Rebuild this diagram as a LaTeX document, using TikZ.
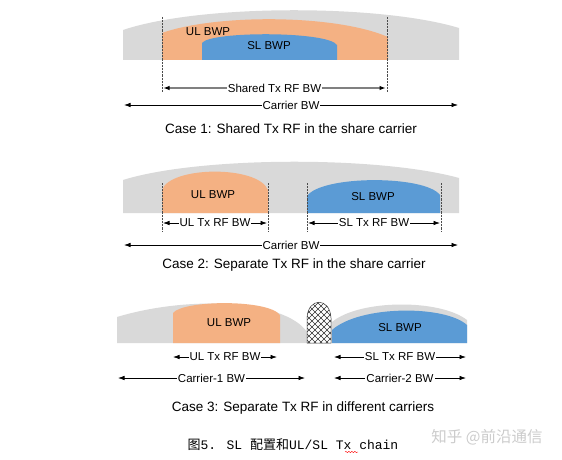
\documentclass[tikz,border=0pt]{standalone}
\usepackage{fontspec}
\setmainfont{Liberation Sans}
\newfontfamily\cjkfont{Noto Sans CJK SC}
\newfontfamily\capmono{Liberation Mono}
\usetikzlibrary{arrows.meta,decorations.pathmorphing}
\definecolor{carriergray}{HTML}{D9D9D9}
\definecolor{ulorange}{HTML}{F4B183}
\definecolor{slblue}{HTML}{5B9BD5}

\begin{document}
\begin{tikzpicture}[
  x=1pt, y=-1pt,
  >={Latex[length=6.5pt, width=4.5pt, color=black]},
  carrier/.style={fill=carriergray},
  ulbwp/.style={fill=ulorange},
  slbwp/.style={fill=slblue},
  guide/.style={densely dotted, black!70, line width=0.45pt},
  dim/.style={<->, line width=0.7pt},
  lbl/.style={font=\fontsize{11.5}{13}\selectfont, fill=white, inner sep=1pt},
  bwp/.style={font=\fontsize{11.5}{13}\selectfont, inner sep=1pt},
  caption/.style={font=\fontsize{13.5}{16}\selectfont, inner sep=1pt},
  hatch/.style={line width=0.4pt, black!80},
]
  \useasboundingbox[fill=white] (0,0) rectangle (562,460);

  % case 1: one carrier, shared RF
  \fill[carrier] (123,60) -- (123,30) .. controls (200,4) and (380,4) .. (459,28) -- (459,60) -- cycle;
  \fill[ulbwp] (162,60) -- (162,33) .. controls (215,14) and (335,14) .. (388,37) -- (388,60) -- cycle;
  \fill[slbwp] (202,60) -- (202,43) .. controls (210,31) and (328,31) .. (337,45) -- (337,60) -- cycle;
  \node[bwp] (ul1) at (208,32) {UL BWP};
  \node[bwp] (sl1) at (269,46) {SL BWP};

  \coordinate (g1a) at (162,17);  \coordinate (g1b) at (162,91);
  \coordinate (g1c) at (387,17);  \coordinate (g1d) at (387,91);
  \draw[guide] (g1a) -- (g1b);
  \draw[guide] (g1c) -- (g1d);

  \coordinate (sh1L) at (163,88);  \coordinate (sh1R) at (386,88);
  \coordinate (cb1L) at (124,105); \coordinate (cb1R) at (458,105);
  \draw[dim, black!50, line width=1.3pt] (sh1L) -- node[lbl, text=black] (sh1) {Shared Tx RF BW} (sh1R);
  \draw[dim] (cb1L) -- node[lbl] (cb1) {Carrier BW} (cb1R);
  \node[caption] (cap1) at (291,129) {Case 1: Shared Tx RF in the share carrier};

  % case 2: one carrier, separate RF
  \fill[carrier] (123,213) -- (123,180) .. controls (200,156) and (380,156) .. (459,178) -- (459,213) -- cycle;
  \fill[ulbwp] (162,213) -- (162,190) .. controls (170,166) and (258,165) .. (268,190) -- (268,213) -- cycle;
  \fill[slbwp] (307,213) -- (307,196) .. controls (322,175) and (425,175) .. (440,195) -- (440,213) -- cycle;
  \node[bwp] (ul2) at (213,195) {UL BWP};
  \node[bwp] (sl2) at (373,197) {SL BWP};

  \foreach \gx [count=\i] in {162,268,307,441} {
    \coordinate (g2t\i) at (\gx,183);
    \coordinate (g2b\i) at (\gx,231);
    \draw[guide] (g2t\i) -- (g2b\i);
  }

  \coordinate (ut2L) at (163,223); \coordinate (ut2R) at (267,223);
  \coordinate (st2L) at (308,223); \coordinate (st2R) at (440,223);
  \coordinate (cb2L) at (124,245); \coordinate (cb2R) at (458,245);
  \draw[dim] (ut2L) -- node[lbl] (ut2) {UL Tx RF BW} (ut2R);
  \draw[dim] (st2L) -- node[lbl] (st2) {SL Tx RF BW} (st2R);
  \draw[dim] (cb2L) -- node[lbl] (cb2) {Carrier BW} (cb2R);
  \node[caption] (cap2) at (294,265) {Case 2: Separate Tx RF in the share carrier};

  % case 3: two carriers, separate RF
  \fill[carrier] (117,343) -- (117,317) .. controls (190,295) and (285,300) .. (307,332) -- (307,343) -- cycle;
  \fill[ulbwp] (173,343) -- (173,313) .. controls (183,300) and (268,299) .. (280,315) -- (280,343) -- cycle;
  \fill[carrier] (332,343) -- (332,322) .. controls (360,299) and (440,299) .. (467,320) -- (467,343) -- cycle;
  \fill[slbwp] (332,343) -- (332,330) .. controls (360,305) and (445,305) .. (467,325) -- (467,343) -- cycle;
  \begin{scope}
    \clip (307,343) -- (307,318) .. controls (308,297) and (330,297) .. (331,318) -- (331,343) -- cycle;
    \fill[white] (300,290) rectangle (340,350);
    \foreach \k in {270,276,...,370} {
      \draw[hatch] (\k,345) -- ++(50,-50);
      \draw[hatch] (\k,345) -- ++(-50,-50);
    }
  \end{scope}
  \draw[black!80, line width=0.5pt] (307,343) -- (307,318) .. controls (308,297) and (330,297) .. (331,318) -- (331,343) -- cycle;
  \node[bwp] (ul3) at (229,323) {UL BWP};
  \node[bwp] (sl3) at (400,328) {SL BWP};

  \coordinate (ut3L) at (173,357); \coordinate (ut3R) at (277,357);
  \coordinate (st3L) at (334,357); \coordinate (st3R) at (466,357);
  \coordinate (c31L) at (118,378); \coordinate (c31R) at (305,378);
  \coordinate (c32L) at (334,378); \coordinate (c32R) at (466,378);
  \draw[dim] (ut3L) -- node[lbl] (ut3) {UL Tx RF BW} (ut3R);
  \draw[dim] (st3L) -- node[lbl] (st3) {SL Tx RF BW} (st3R);
  \draw[dim] (c31L) -- node[lbl] (c31) {Carrier-1 BW} (c31R);
  \draw[dim] (c32L) -- node[lbl] (c32) {Carrier-2 BW} (c32R);
  \node[caption] (cap3) at (303,408) {Case 3: Separate Tx RF in different carriers};

  % figure title and watermark
  \node[inner sep=0pt, font=\fontsize{13}{15}\selectfont] (title) at (293,445)
    {{\cjkfont 图}{\capmono 5. SL }{\cjkfont 配置和}{\capmono UL/SL Tx chain}};
  \draw[red, line width=0.4pt, decorate, decoration={snake, amplitude=0.7pt, segment length=3pt}]
    (345,452) -- (358,452);
  \node[text=black!20, font=\cjkfont\fontsize{15.5}{18}\selectfont, inner sep=0pt] (mark) at (487,437) {知乎 @前沿通信};
\end{tikzpicture}
\end{document}
